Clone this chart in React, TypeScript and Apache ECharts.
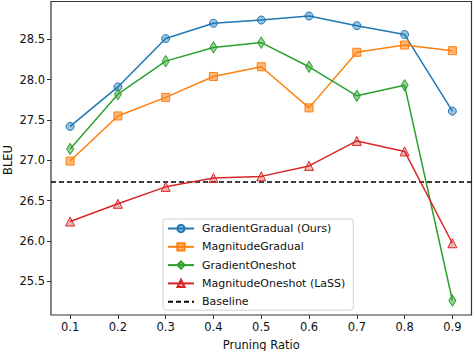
import React, { useEffect, useRef } from "react";
import * as echarts from "echarts";

const ratios = [0.1, 0.2, 0.3, 0.4, 0.5, 0.6, 0.7, 0.8, 0.9];
const gradientGradual = [27.42, 27.91, 28.51, 28.7, 28.74, 28.79, 28.67, 28.56, 27.61];
const magnitudeGradual = [26.99, 27.55, 27.78, 28.04, 28.16, 27.65, 28.34, 28.43, 28.36];
const gradientOneshot = [27.14, 27.82, 28.23, 28.4, 28.46, 28.16, 27.8, 27.93, 25.26];
const magnitudeOneshot = [26.24, 26.46, 26.67, 26.78, 26.8, 26.93, 27.24, 27.11, 25.97];
const baseline = 26.73;
const yTicks = [25.5, 26.0, 26.5, 27.0, 27.5, 28.0, 28.5];
const xTicks = [0.1, 0.2, 0.3, 0.4, 0.5, 0.6, 0.7, 0.8, 0.9];
const names = [
  "GradientGradual (Ours)",
  "MagnitudeGradual",
  "GradientOneshot",
  "MagnitudeOneshot (LaSS)",
  "Baseline",
];

const FONT = "DejaVu Sans";
const X_MIN = 0.06;
const X_MAX = 0.94;
const Y_MIN = 25.08;
const Y_MAX = 28.97;

function mk(name: string, vals: number[], color: string, fill: string, symbol: string, size: any) {
  return {
    name,
    type: "line",
    data: ratios.map((r, i) => [r, vals[i]]),
    symbol,
    symbolSize: size,
    lineStyle: { color, width: 1.5 },
    itemStyle: { color: fill, borderColor: color, borderWidth: 1 },
    z: 3,
  };
}

export default function App() {
  const ref = useRef<HTMLDivElement>(null);
  useEffect(() => {
    const chart = echarts.init(ref.current!, null, { renderer: "svg" });
    chart.setOption({
      animation: false,
      textStyle: { fontFamily: FONT },
      grid: {
        left: 51,
        right: 2.5,
        top: 1.5,
        bottom: 36,
        containLabel: false,
        outerBoundsMode: "none",
        show: true,
        backgroundColor: "transparent",
        borderColor: "#333",
        borderWidth: 1.2,
      },
      xAxis: {
        type: "value",
        min: X_MIN,
        max: X_MAX,
        splitLine: { show: false },
        axisLine: { show: false },
        axisTick: { show: true, customValues: xTicks, length: 4, lineStyle: { color: "#333" } },
        axisLabel: {
          customValues: xTicks,
          formatter: (v: number) => v.toFixed(1),
          fontSize: 11.5,
          color: "#111",
          fontFamily: FONT,
          margin: 6,
        },
        name: "Pruning Ratio",
        nameLocation: "middle",
        nameGap: 24,
        nameTextStyle: { fontSize: 11.5, color: "#111", fontFamily: FONT },
      },
      yAxis: {
        type: "value",
        min: Y_MIN,
        max: Y_MAX,
        splitLine: { show: false },
        axisLine: { show: false },
        axisTick: { show: true, customValues: yTicks, length: 4, lineStyle: { color: "#333" } },
        axisLabel: {
          customValues: yTicks,
          formatter: (v: number) => v.toFixed(1),
          fontSize: 11.5,
          color: "#111",
          fontFamily: FONT,
          margin: 6,
        },
      },
      graphic: [
        {
          type: "text",
          x: 8,
          y: 160,
          rotation: Math.PI / 2,
          style: {
            text: "BLEU",
            font: `11.5px '${FONT}'`,
            fill: "#111",
            align: "center",
            verticalAlign: "middle",
          },
        },
      ],
      legend: {
        orient: "vertical",
        left: 163,
        top: 219,
        width: 196,
        padding: [4, 8, 3, 4],
        itemWidth: 26,
        itemHeight: 9,
        itemGap: 7.3,
        backgroundColor: "rgba(255,255,255,0.85)",
        borderColor: "#d0d0d0",
        borderWidth: 1,
        borderRadius: 3,
        textStyle: { fontSize: 11, color: "#111", fontFamily: FONT, padding: [0, 0, 0, 3] },
        data: [
          names[0],
          names[1],
          names[2],
          names[3],
          { name: names[4], itemStyle: { opacity: 0 } },
        ],
      },
      series: [
        mk(names[0], gradientGradual, "#1f77b4", "rgba(31,119,180,0.45)", "circle", 8),
        mk(names[1], magnitudeGradual, "#ff7f0e", "rgba(255,127,14,0.55)", "rect", 8),
        mk(names[2], gradientOneshot, "#2ca02c", "rgba(44,160,44,0.45)", "diamond", [7, 11]),
        mk(names[3], magnitudeOneshot, "#d62728", "rgba(214,39,40,0.35)", "triangle", 9),
        {
          name: names[4],
          type: "line",
          data: [
            [X_MIN, baseline],
            [X_MAX, baseline],
          ],
          symbol: "none",
          lineStyle: { color: "#000", width: 1.5, type: [5, 3] },
          itemStyle: { color: "#000" },
          z: 2,
        },
      ],
    });
    return () => chart.dispose();
  }, []);
  return (
    <div
      ref={ref}
      style={{ position: "fixed", left: 0, top: 0, width: 474, height: 351, background: "#fff" }}
    />
  );
}
